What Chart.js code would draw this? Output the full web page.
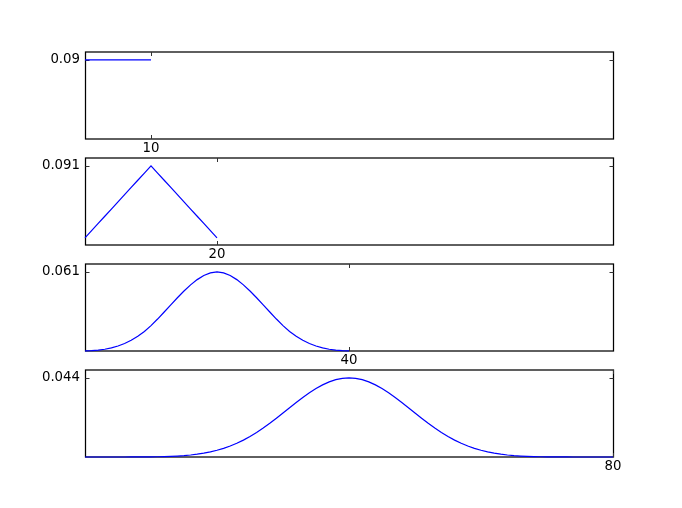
<!DOCTYPE html>
<html><head><meta charset="utf-8">
<script src="https://cdn.jsdelivr.net/npm/chart.js@4.4.0/dist/chart.umd.min.js"></script>
<style>
html,body{margin:0;padding:0;background:#fff;width:682px;height:508px;overflow:hidden;}
canvas{position:absolute;left:0;}
</style></head><body>
<script>
// Probability of sums: panel values
const p1 = [0.0909,0.0909,0.0909,0.0909,0.0909,0.0909,0.0909,0.0909,0.0909,0.0909,0.0909];
const p2 = [0.00826,0.01653,0.02479,0.03306,0.04132,0.04959,0.05785,0.06612,0.07438,0.08264,
            0.09091,
            0.08264,0.07438,0.06612,0.05785,0.04959,0.04132,0.03306,0.02479,0.01653,0.00826];
const p3 = [6.83e-5,2.73e-4,6.83e-4,1.366e-3,2.391e-3,3.825e-3,5.737e-3,8.196e-3,0.011270,0.015026,
            0.019534,0.024589,0.029984,0.035517,0.040981,0.046172,0.050884,0.054914,0.058056,0.060105,
            0.060857,
            0.060105,0.058056,0.054914,0.050884,0.046172,0.040981,0.035517,0.029984,0.024589,0.019534,
            0.015026,0.011270,8.196e-3,5.737e-3,3.825e-3,2.391e-3,1.366e-3,6.83e-4,2.73e-4,6.83e-5];
const p4 = [4.67e-9,3.73e-8,1.68e-7,5.60e-7,1.54e-6,3.69e-6,8.01e-6,1.601e-5,3.002e-5,5.337e-5,
            9.073e-5,1.4842e-4,2.3477e-4,3.6029e-4,5.3798e-4,7.8328e-4,1.1141e-3,1.5506e-3,2.1144e-3,2.8285e-3,
            3.7158e-3,4.7978e-3,6.0936e-3,7.5889e-3,9.3462e-3,0.011344,0.013576,0.016026,0.018660,0.021442,
            0.024320,0.027235,0.030118,0.032900,0.035503,0.037855,0.039886,0.041537,0.042755,0.043501,
            0.043753,
            0.043501,0.042755,0.041537,0.039886,0.037855,0.035503,0.032900,0.030118,0.027235,0.024320,
            0.021442,0.018660,0.016026,0.013576,0.011344,9.3462e-3,7.5889e-3,6.0936e-3,4.7978e-3,3.7158e-3,
            2.8285e-3,2.1144e-3,1.5506e-3,1.1141e-3,7.8328e-4,5.3798e-4,3.6029e-4,2.3477e-4,1.4842e-4,9.073e-5,
            5.337e-5,3.002e-5,1.601e-5,8.01e-6,3.69e-6,1.54e-6,5.60e-7,1.68e-7,3.73e-8,4.67e-9];
const series = [p1, p2, p3, p4];
const xTicks = [10, 20, 40, 80];
const xTickLabels = ['10', '20', '40', '80'];
const yTicks = [0.0909, 0.09091, 0.060857, 0.043753];
const yTickLabels = ['0.09', '0.091', '0.061', '0.044'];
const yMax = [0.1, 0.1, 0.066943, 0.048128];
const xMin = 0, xMax = 80;

const tops = [51, 157, 263, 369];
const H = 88, PADT = 12, XAX = 24, YAX = 85, PADR = 69;
const FONT = {family: 'DejaVu Sans', size: 13.3};

const framePlugin = {
  id: 'frame',
  beforeDatasetsDraw(chart) {
    const {ctx, chartArea: a, scales: {x, y}} = chart;
    ctx.save();
    ctx.strokeStyle = '#000'; ctx.lineWidth = 1.25;
    const L = Math.round(a.left) + 0.5, R = Math.round(a.right) + 0.5;
    const T = Math.round(a.top), B = Math.round(a.bottom);
    ctx.strokeRect(L, T, R - L, B - T);
    ctx.lineWidth = 1;
    ctx.strokeStyle = '#333';
    ctx.beginPath();
    x.ticks.forEach(t => {
      const px = Math.round(x.getPixelForValue(t.value)) + 0.5;
      ctx.moveTo(px, B); ctx.lineTo(px, B - 4);
      ctx.moveTo(px, T); ctx.lineTo(px, T + 4);
    });
    y.ticks.forEach(t => {
      const py = Math.round(y.getPixelForValue(t.value)) + 0.5;
      ctx.moveTo(L, py); ctx.lineTo(L + 4, py);
      ctx.moveTo(R, py); ctx.lineTo(R - 4, py);
    });
    ctx.stroke();
    ctx.restore();
  }
};

series.forEach((vals, i) => {
  const cv = document.createElement('canvas');
  const h = PADT + H + XAX;
  cv.width = 682; cv.height = h;
  cv.style.width = '682px'; cv.style.height = h + 'px';
  cv.style.top = (tops[i] - PADT) + 'px';
  document.body.appendChild(cv);
  new Chart(cv, {
    type: 'line',
    data: {datasets: [{
      data: vals.map((v, k) => ({x: k, y: v})),
      borderColor: '#0000ff', borderWidth: 1.2, pointRadius: 0, tension: 0, fill: false, clip: false
    }]},
    options: {
      responsive: false, animation: false, devicePixelRatio: 1,
      layout: {padding: {left: 0, right: PADR, top: PADT, bottom: 0}},
      plugins: {legend: {display: false}, tooltip: {enabled: false}},
      scales: {
        x: {
          type: 'linear', min: xMin, max: xMax,
          afterBuildTicks: s => { s.ticks = [{value: xTicks[i]}]; },
          afterFit: s => { s.height = XAX; },
          ticks: {callback: () => xTickLabels[i], padding: 2, color: '#000', font: FONT, maxRotation: 0, autoSkip: false},
          grid: {display: false, drawTicks: false, tickLength: 0}, border: {display: false}
        },
        y: {
          type: 'linear', min: 0, max: yMax[i],
          afterBuildTicks: s => { s.ticks = [{value: yTicks[i]}]; },
          afterFit: s => { s.width = YAX; },
          ticks: {callback: () => yTickLabels[i], padding: 5, color: '#000', font: FONT, autoSkip: false},
          grid: {display: false, drawTicks: false, tickLength: 0}, border: {display: false}
        }
      }
    },
    plugins: [framePlugin]
  });
});
</script>
</body></html>
